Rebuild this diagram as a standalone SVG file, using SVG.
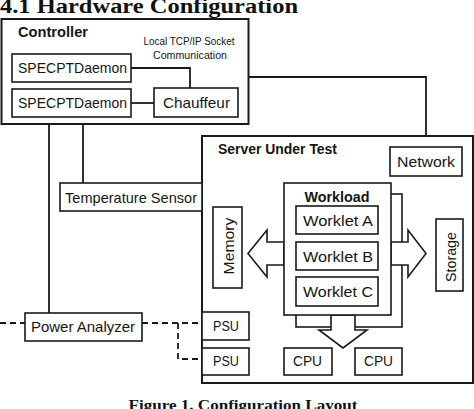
<svg xmlns="http://www.w3.org/2000/svg" width="474" height="409" viewBox="0 0 474 409">
<style>
.box{fill:#fff;stroke:#1a1a1a;stroke-width:1.6}
.big{fill:#fff;stroke:#1a1a1a;stroke-width:2}
.ln{fill:none;stroke:#1a1a1a;stroke-width:1.8}
.dash{fill:none;stroke:#1a1a1a;stroke-width:1.8;stroke-dasharray:6,4}
.t{font-family:"Liberation Sans",Arial,sans-serif;font-size:15px;fill:#151515}
.b{font-family:"Liberation Sans",Arial,sans-serif;font-size:14px;font-weight:bold;fill:#151515}
.s{font-family:"Liberation Sans",Arial,sans-serif;font-size:10px;fill:#151515}
.h{font-family:"Liberation Serif","Times New Roman",serif;font-weight:bold;fill:#111}
</style>
<rect width="474" height="409" fill="#fff"/>
<text class="h" x="0" y="13" font-size="20" textLength="298" lengthAdjust="spacingAndGlyphs">4.1   Hardware Configuration</text>
<g id="controller">
<rect class="big" x="1.5" y="19" width="247" height="105"/>
<text class="b" x="18" y="37" textLength="70" lengthAdjust="spacingAndGlyphs">Controller</text>
<text class="s" x="189" y="45" text-anchor="middle" textLength="91" lengthAdjust="spacingAndGlyphs">Local TCP/IP Socket</text>
<text class="s" x="190" y="59" text-anchor="middle" textLength="74" lengthAdjust="spacingAndGlyphs">Communication</text>
</g>
<g id="server">
<rect class="big" x="202" y="136" width="271" height="247"/>
<text class="b" x="218" y="154" textLength="119" lengthAdjust="spacingAndGlyphs">Server Under Test</text>
</g>
<g id="connectors">
<polyline class="ln" points="131,68 190,68 190,88"/>
<line class="ln" x1="131" y1="103" x2="154" y2="103"/>
<line class="ln" x1="49" y1="124" x2="49" y2="313"/>
<line class="ln" x1="83" y1="124" x2="83" y2="183"/>
<polyline class="ln" points="249,77 426,77 426,136"/>
<line class="dash" x1="0" y1="323" x2="25" y2="323"/>
<line class="dash" x1="142" y1="323" x2="202" y2="323"/>
<polyline class="dash" points="178,323 178,359 202,359"/>
</g>
<g id="daemon1">
<rect class="box" x="12" y="54" width="119" height="28"/>
<text class="t" x="18" y="73" textLength="109" lengthAdjust="spacingAndGlyphs">SPECPTDaemon</text>
</g>
<g id="daemon2">
<rect class="box" x="12" y="89" width="119" height="28"/>
<text class="t" x="18" y="108" textLength="109" lengthAdjust="spacingAndGlyphs">SPECPTDaemon</text>
</g>
<g id="chauffeur">
<rect class="box" x="154" y="88" width="84" height="29"/>
<text class="t" x="163" y="108" textLength="67" lengthAdjust="spacingAndGlyphs">Chauffeur</text>
</g>
<g id="network">
<rect class="box" x="390" y="147" width="72" height="29"/>
<text class="t" x="397" y="167" textLength="58" lengthAdjust="spacingAndGlyphs">Network</text>
</g>
<g id="temperature-sensor">
<rect class="box" x="60" y="183" width="142" height="28"/>
<text class="t" x="65" y="203" textLength="132" lengthAdjust="spacingAndGlyphs">Temperature Sensor</text>
</g>
<g id="power-analyzer">
<rect class="box" x="25" y="313" width="117" height="28"/>
<text class="t" x="31" y="332" textLength="104" lengthAdjust="spacingAndGlyphs">Power Analyzer</text>
</g>
<g id="memory">
<rect class="box" x="213" y="207" width="29" height="81"/>
<text class="t" transform="translate(234,246) rotate(-90)" text-anchor="middle" textLength="57" lengthAdjust="spacingAndGlyphs">Memory</text>
</g>
<g id="storage">
<rect class="box" x="436" y="219" width="27" height="72"/>
<text class="t" transform="translate(456,257) rotate(-90)" text-anchor="middle" textLength="50" lengthAdjust="spacingAndGlyphs">Storage</text>
</g>
<g id="workload">
<rect class="box" x="296" y="194" width="106" height="133"/>
<polygon class="box" points="284,242 267,242 267,230 248,253.5 267,277 267,265 284,265"/>
<polygon class="box" points="391,242 408,242 408,230 426,253.5 408,277 408,265 391,265"/>
<polygon class="box" points="331,315 331,330 319,330 343,348 367,330 355,330 355,315"/>
<rect class="box" x="284" y="183" width="107" height="132"/>
<text class="b" x="337" y="202" text-anchor="middle" textLength="65" lengthAdjust="spacingAndGlyphs">Workload</text>
</g>
<g id="worklet-a">
<rect class="box" x="296" y="206" width="82" height="28"/>
<text class="t" x="303" y="226" textLength="70" lengthAdjust="spacingAndGlyphs">Worklet A</text>
</g>
<g id="worklet-b">
<rect class="box" x="296" y="242" width="82" height="28"/>
<text class="t" x="303" y="262" textLength="70" lengthAdjust="spacingAndGlyphs">Worklet B</text>
</g>
<g id="worklet-c">
<rect class="box" x="296" y="277" width="82" height="29"/>
<text class="t" x="303" y="297" textLength="70" lengthAdjust="spacingAndGlyphs">Worklet C</text>
</g>
<g id="psu1">
<rect class="box" x="202" y="312" width="47" height="28"/>
<text class="t" x="213" y="331" textLength="26" lengthAdjust="spacingAndGlyphs">PSU</text>
</g>
<g id="psu2">
<rect class="box" x="202" y="348" width="47" height="27"/>
<text class="t" x="213" y="366" textLength="26" lengthAdjust="spacingAndGlyphs">PSU</text>
</g>
<g id="cpu1">
<rect class="box" x="284" y="348" width="48" height="27"/>
<text class="t" x="293" y="366" textLength="29" lengthAdjust="spacingAndGlyphs">CPU</text>
</g>
<g id="cpu2">
<rect class="box" x="355" y="348" width="47" height="27"/>
<text class="t" x="364" y="366" textLength="29" lengthAdjust="spacingAndGlyphs">CPU</text>
</g>
<text class="h" x="243" y="410" font-size="15" text-anchor="middle" textLength="229" lengthAdjust="spacingAndGlyphs">Figure 1. Configuration Layout</text>
</svg>
